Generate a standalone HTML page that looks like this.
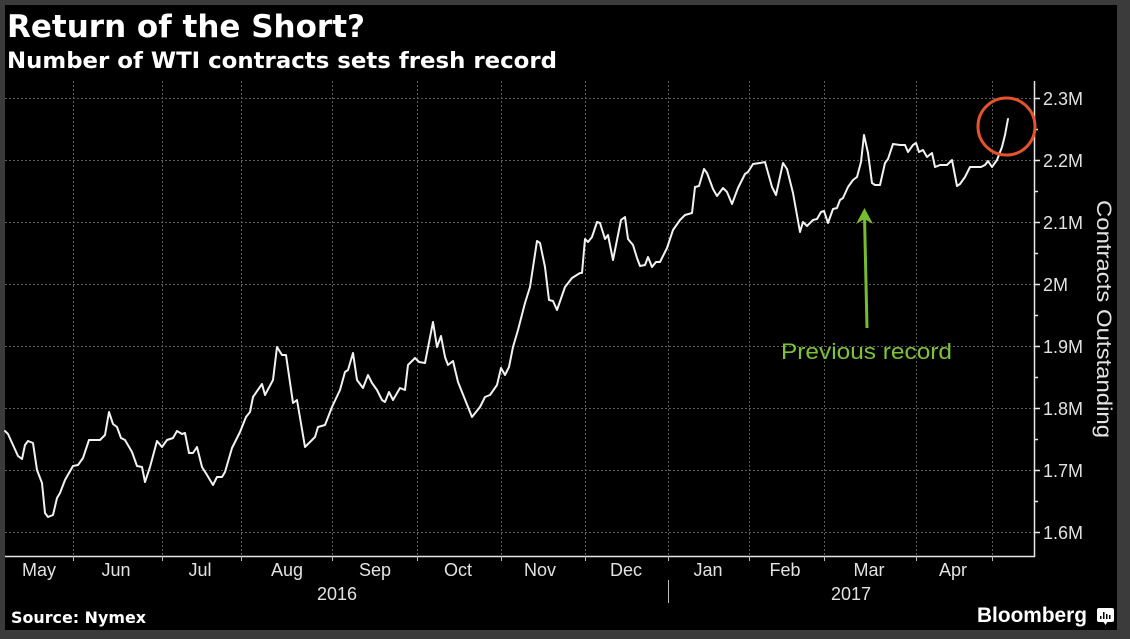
<!DOCTYPE html>
<html>
<head>
<meta charset="utf-8">
<style>
  html, body { margin:0; padding:0; background:#3b3b3b; }
  body { width:1130px; height:639px; overflow:hidden; }
  svg { display:block; }
</style>
</head>
<body>
<svg width="1130" height="639" viewBox="0 0 1130 639" xmlns="http://www.w3.org/2000/svg">
  <rect x="0" y="0" width="1130" height="639" fill="#3b3b3b"/>
  <rect x="5" y="5" width="1112" height="625" fill="#000"/>

  <!-- Title -->
  <text x="7" y="37" font-family="DejaVu Sans, Liberation Sans, sans-serif" font-weight="bold" font-size="31" fill="#fff" textLength="358" lengthAdjust="spacingAndGlyphs">Return of the Short?</text>
  <text x="7" y="68" font-family="DejaVu Sans, Liberation Sans, sans-serif" font-weight="bold" font-size="22.5" fill="#fff" textLength="550" lengthAdjust="spacingAndGlyphs">Number of WTI contracts sets fresh record</text>

  <!-- Horizontal dotted grid -->
  <g stroke="#5c5c5c" stroke-width="1" stroke-dasharray="2,2">
    <line x1="5" y1="98.5" x2="1034" y2="98.5"/>
    <line x1="5" y1="160.5" x2="1034" y2="160.5"/>
    <line x1="5" y1="222.5" x2="1034" y2="222.5"/>
    <line x1="5" y1="284.5" x2="1034" y2="284.5"/>
    <line x1="5" y1="346.5" x2="1034" y2="346.5"/>
    <line x1="5" y1="408.5" x2="1034" y2="408.5"/>
    <line x1="5" y1="470.5" x2="1034" y2="470.5"/>
    <line x1="5" y1="532.5" x2="1034" y2="532.5"/>
  </g>
  <!-- Vertical dotted grid -->
  <g stroke="#5c5c5c" stroke-width="1" stroke-dasharray="2,2">
    <line x1="73.5" y1="81" x2="73.5" y2="556"/>
    <line x1="162.5" y1="81" x2="162.5" y2="556"/>
    <line x1="241.5" y1="81" x2="241.5" y2="556"/>
    <line x1="332.5" y1="81" x2="332.5" y2="556"/>
    <line x1="417.5" y1="81" x2="417.5" y2="556"/>
    <line x1="501.5" y1="81" x2="501.5" y2="556"/>
    <line x1="585.5" y1="81" x2="585.5" y2="556"/>
    <line x1="668.5" y1="81" x2="668.5" y2="556"/>
    <line x1="749.5" y1="81" x2="749.5" y2="556"/>
    <line x1="824.5" y1="81" x2="824.5" y2="556"/>
    <line x1="916.5" y1="81" x2="916.5" y2="556"/>
    <line x1="992.5" y1="81" x2="992.5" y2="556"/>
  </g>

  <!-- Axes -->
  <line x1="5" y1="556.5" x2="1035" y2="556.5" stroke="#e6e6e6" stroke-width="1.5"/>
  <line x1="1034.5" y1="81" x2="1034.5" y2="557" stroke="#e6e6e6" stroke-width="1.5"/>

  <!-- Month ticks -->
  <g stroke="#bdbdbd" stroke-width="1">
    <line x1="73.5" y1="556" x2="73.5" y2="561"/>
    <line x1="162.5" y1="556" x2="162.5" y2="561"/>
    <line x1="241.5" y1="556" x2="241.5" y2="561"/>
    <line x1="332.5" y1="556" x2="332.5" y2="561"/>
    <line x1="417.5" y1="556" x2="417.5" y2="561"/>
    <line x1="501.5" y1="556" x2="501.5" y2="561"/>
    <line x1="585.5" y1="556" x2="585.5" y2="561"/>
    <line x1="668.5" y1="556" x2="668.5" y2="561"/>
    <line x1="749.5" y1="556" x2="749.5" y2="561"/>
    <line x1="824.5" y1="556" x2="824.5" y2="561"/>
    <line x1="916.5" y1="556" x2="916.5" y2="561"/>
    <line x1="992.5" y1="556" x2="992.5" y2="561"/>
    <line x1="668.5" y1="580" x2="668.5" y2="603"/>
  </g>

  <!-- Y ticks -->
  <g stroke="#e6e6e6" stroke-width="1.5">
    <line x1="1034" y1="98.5" x2="1040" y2="98.5"/>
    <line x1="1034" y1="129.5" x2="1038" y2="129.5"/>
    <line x1="1034" y1="160.5" x2="1040" y2="160.5"/>
    <line x1="1034" y1="191.5" x2="1038" y2="191.5"/>
    <line x1="1034" y1="222.5" x2="1040" y2="222.5"/>
    <line x1="1034" y1="253.5" x2="1038" y2="253.5"/>
    <line x1="1034" y1="284.5" x2="1040" y2="284.5"/>
    <line x1="1034" y1="315.5" x2="1038" y2="315.5"/>
    <line x1="1034" y1="346.5" x2="1040" y2="346.5"/>
    <line x1="1034" y1="377.5" x2="1038" y2="377.5"/>
    <line x1="1034" y1="408.5" x2="1040" y2="408.5"/>
    <line x1="1034" y1="439.5" x2="1038" y2="439.5"/>
    <line x1="1034" y1="470.5" x2="1040" y2="470.5"/>
    <line x1="1034" y1="501.5" x2="1038" y2="501.5"/>
    <line x1="1034" y1="532.5" x2="1040" y2="532.5"/>
  </g>

  <!-- Y labels -->
  <g font-family="Liberation Sans, sans-serif" font-size="18" fill="#e2e2e2">
    <text x="1043" y="105">2.3M</text>
    <text x="1043" y="167">2.2M</text>
    <text x="1043" y="229">2.1M</text>
    <text x="1043" y="291">2M</text>
    <text x="1043" y="353">1.9M</text>
    <text x="1043" y="415">1.8M</text>
    <text x="1043" y="477">1.7M</text>
    <text x="1043" y="539">1.6M</text>
  </g>

  <!-- Y axis title -->
  <text transform="translate(1097,319) rotate(90)" text-anchor="middle" font-family="Liberation Sans, sans-serif" font-size="21" fill="#e2e2e2" textLength="238" lengthAdjust="spacingAndGlyphs">Contracts Outstanding</text>

  <!-- Month labels -->
  <g font-family="Liberation Sans, sans-serif" font-size="18" fill="#e2e2e2" text-anchor="middle">
    <text x="39" y="576">May</text>
    <text x="116" y="576">Jun</text>
    <text x="200" y="576">Jul</text>
    <text x="287" y="576">Aug</text>
    <text x="375" y="576">Sep</text>
    <text x="458" y="576">Oct</text>
    <text x="540" y="576">Nov</text>
    <text x="626" y="576">Dec</text>
    <text x="708" y="576">Jan</text>
    <text x="785" y="576">Feb</text>
    <text x="869" y="576">Mar</text>
    <text x="953" y="576">Apr</text>
    <text x="337" y="600">2016</text>
    <text x="851" y="600">2017</text>
  </g>

  <!-- Data line -->
  <polyline fill="none" stroke="#f2f2f2" stroke-width="2" stroke-linejoin="round" stroke-linecap="round"
    points="5,431 8,434 13,445 18,456 22,459 25,445 28,441 33,443 37,470 42,483 45,513 48,517 53,515 57,498 60,493 65,480 73,466 78,465 83,458 89,440 100,440 105,435 109,412 113,424 117,427 121,438 125,440 132,452 137,466 142,467 145,482 150,467 157,441 162,447 167,440 173,438 177,431 182,434 185,433 189,453 193,453 197,447 202,467 207,475 213,485 217,477 222,477 225,472 232,448 240,432 246,417 250,412 253,397 262,384 265,395 273,380 277,347 282,355 286,355 293,403 297,400 305,447 310,442 315,437 318,427 325,425 332,407 340,390 345,372 348,370 353,353 357,380 363,388 368,375 372,383 377,390 382,400 385,402 389,392 393,400 400,388 405,390 408,365 415,358 419,362 425,363 433,322 437,347 441,336 445,357 448,365 453,361 458,382 472,417 480,407 485,397 490,395 497,385 501,368 505,375 509,367 513,347 518,330 525,303 530,287 537,241 540,243 545,267 549,300 553,301 557,310 565,287 572,278 580,273 582,273 585,239 588,242 592,237 597,222 600,223 605,239 608,235 613,260 617,240 621,220 625,217 628,239 633,245 637,258 640,266 645,265 648,257 652,267 656,262 660,262 667,248 673,230 680,220 685,215 692,213 695,187 699,186 704,169 707,173 713,189 717,196 723,188 727,192 732,204 738,188 745,174 748,172 753,164 760,163 765,162 772,187 776,195 783,163 787,169 793,193 800,232 803,222 807,226 813,220 817,219 821,212 824,211 828,223 833,209 837,208 840,200 843,198 848,187 853,180 857,177 861,162 864,135 868,153 872,183 875,185 880,185 885,163 888,159 893,144 900,145 905,145 908,152 913,145 916,143 919,152 923,150 927,157 932,153 935,167 940,165 947,165 952,160 957,186 960,184 965,177 970,167 976,167 981,167 985,165 988,161 992,167 997,160 1002,147 1005,135 1008,119"/>

  <!-- Orange circle -->
  <circle cx="1006.5" cy="126.5" r="28.5" fill="none" stroke="#e5532b" stroke-width="3"/>

  <!-- Green arrow -->
  <line x1="867" y1="328" x2="864.5" y2="216" stroke="#77bb2e" stroke-width="3"/>
  <polygon points="864.5,208 873,224 864.5,219 856,224" fill="#77bb2e"/>
  <text x="781" y="359" font-family="Liberation Sans, sans-serif" font-size="22" fill="#7cc33a" textLength="171" lengthAdjust="spacingAndGlyphs">Previous record</text>

  <!-- Source -->
  <text x="11" y="623" font-family="DejaVu Sans, Liberation Sans, sans-serif" font-weight="bold" font-size="16" fill="#fff" textLength="135" lengthAdjust="spacingAndGlyphs">Source: Nymex</text>

  <!-- Bloomberg -->
  <text x="977" y="622" font-family="Liberation Sans, sans-serif" font-weight="bold" font-size="21" fill="#fff" textLength="110" lengthAdjust="spacingAndGlyphs">Bloomberg</text>
  <g>
    <rect x="1097" y="608" width="17" height="14" rx="2" fill="#fff"/>
    <polygon points="1103,621 1108,621 1105.5,625" fill="#fff"/>
    <rect x="1100" y="616" width="1.5" height="3" fill="#000"/>
    <rect x="1103" y="612" width="1.5" height="7" fill="#000"/>
    <rect x="1106" y="614" width="1.5" height="5" fill="#000"/>
    <rect x="1109" y="615" width="1.5" height="4" fill="#000"/>
  </g>
</svg>
</body>
</html>
